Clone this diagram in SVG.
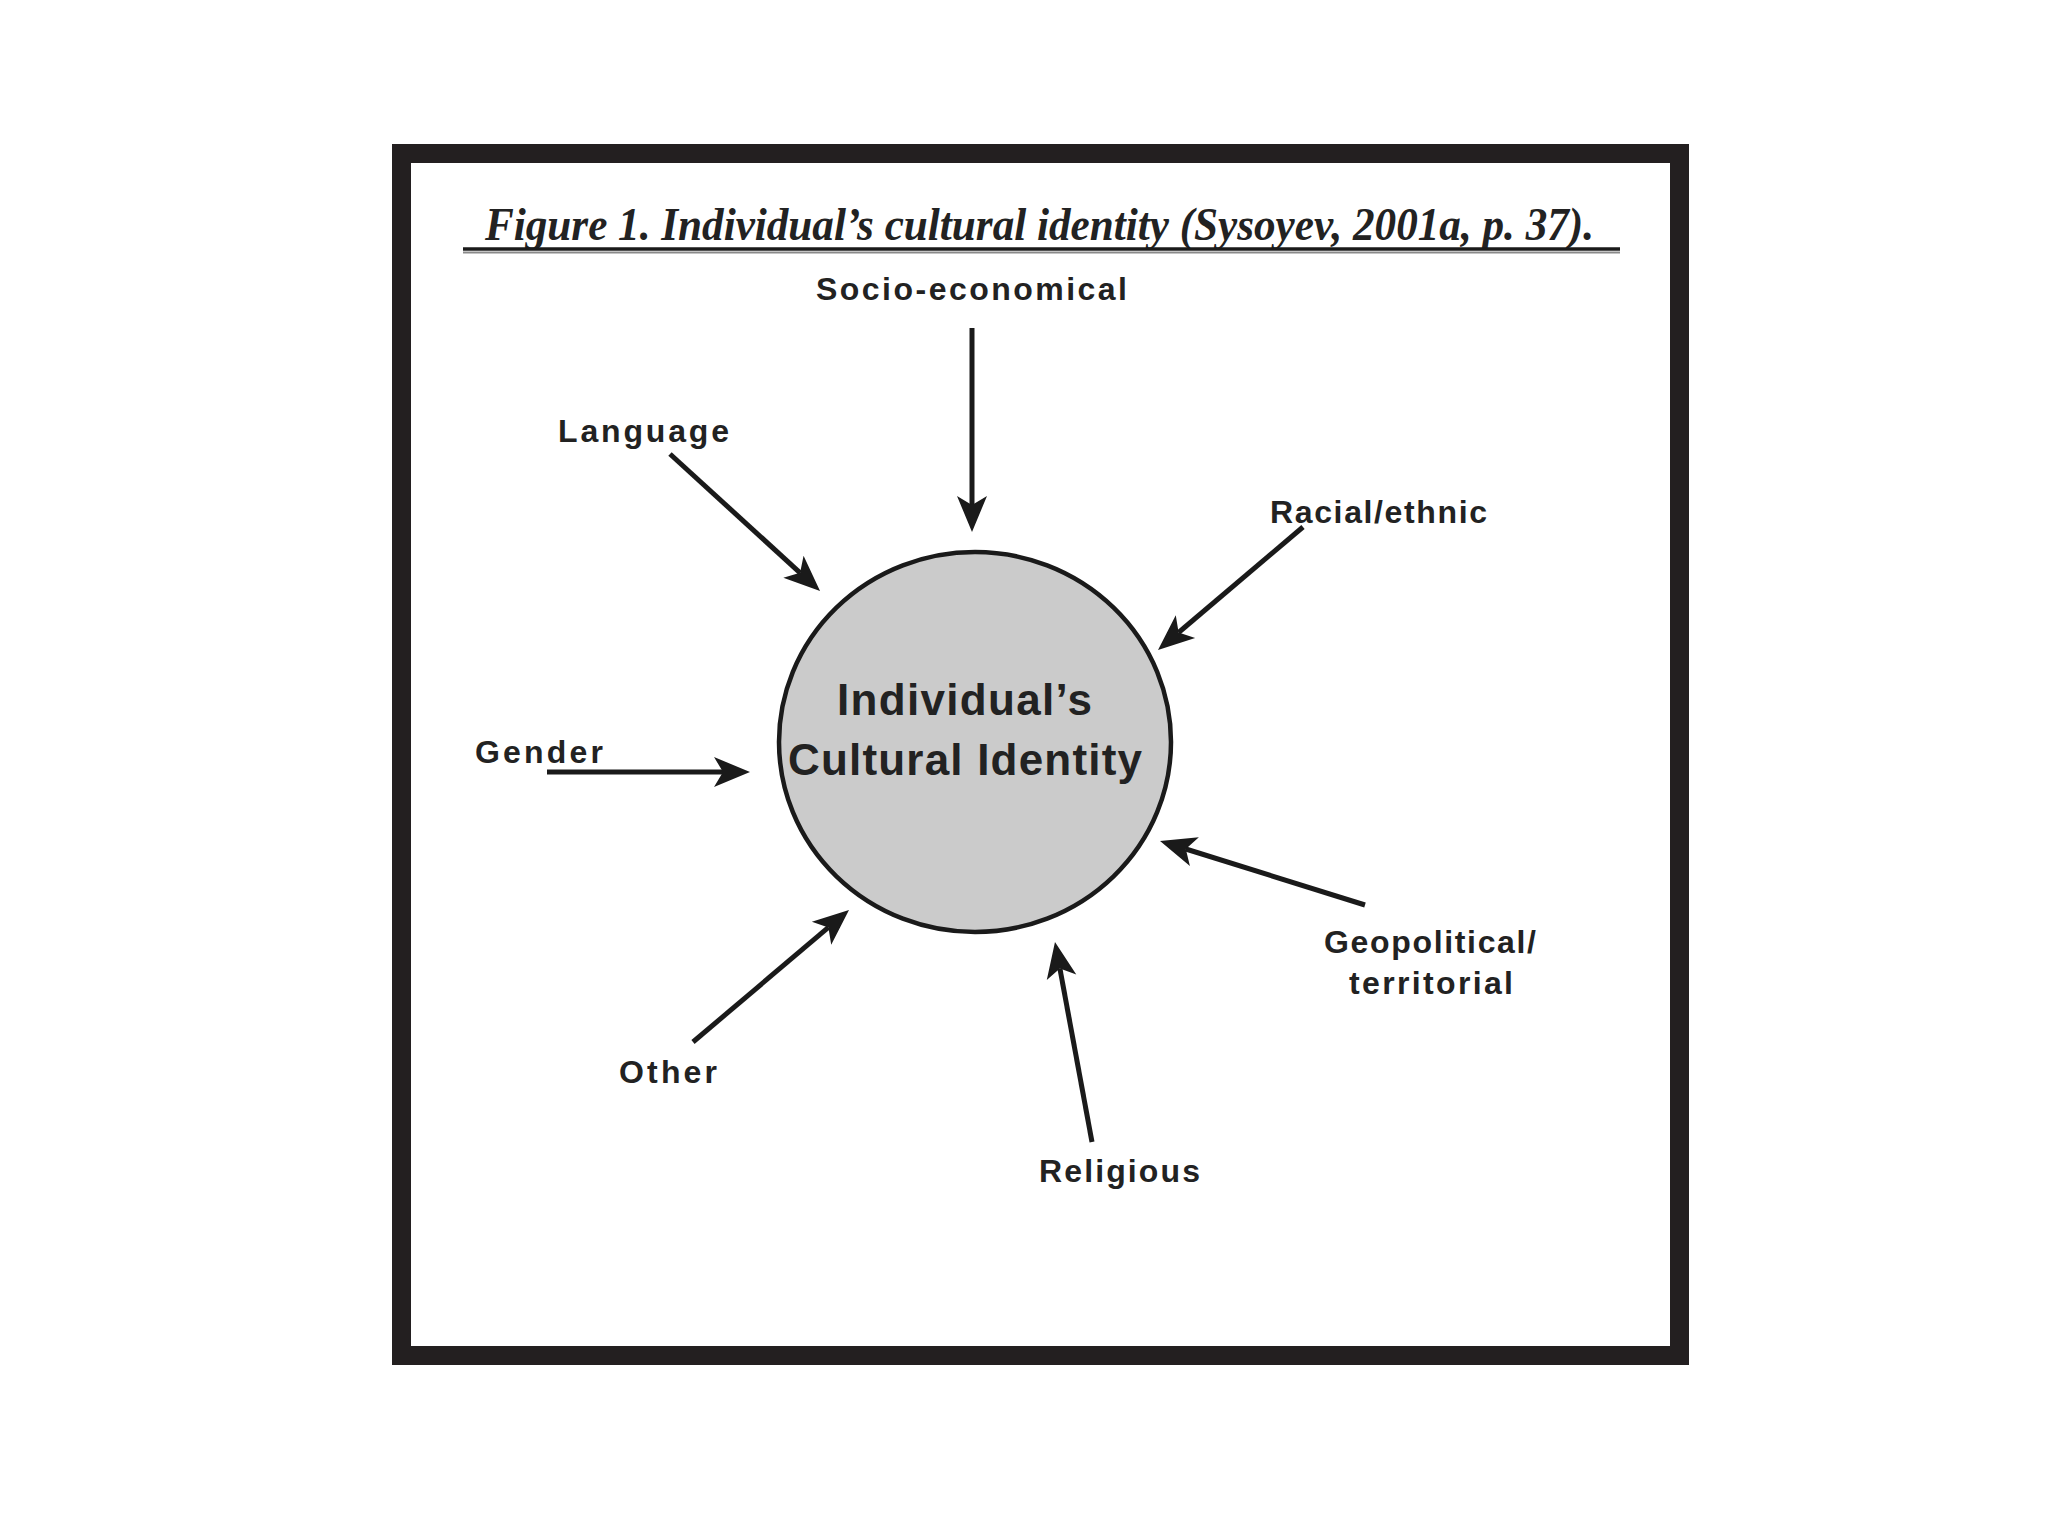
<svg xmlns="http://www.w3.org/2000/svg" width="2048" height="1536" viewBox="0 0 2048 1536">
  <style>
    .lbl { font-family: "Liberation Sans", Arial, sans-serif; font-weight: bold; font-size: 32px; fill: #222; }
    .ctr { font-family: "Liberation Sans", Arial, sans-serif; font-weight: bold; font-size: 44px; fill: #222; }
    .title { font-family: "Liberation Serif", "Times New Roman", serif; font-weight: bold; font-style: italic; font-size: 46px; fill: #222; }
    .conn { stroke: #1a1a1a; stroke-width: 5; fill: none; marker-end: url(#arrow); }
  </style>
  <defs>
    <marker id="arrow" markerUnits="userSpaceOnUse" viewBox="-10 -16 40 32" markerWidth="40" markerHeight="32" refX="0" refY="0" orient="auto">
      <path d="M27,0 L-9,-15 L0,0 L-9,15 Z" fill="#1a1a1a"/>
    </marker>
  </defs>
  <rect width="2048" height="1536" fill="#ffffff"/>
  <g id="frame">
    <rect x="401.5" y="153.5" width="1278" height="1202" fill="#ffffff" stroke="#231f20" stroke-width="19"/>
  </g>
  <g id="title">
    <text class="title" x="485" y="240" textLength="1109" lengthAdjust="spacingAndGlyphs">Figure 1. Individual’s cultural identity (Sysoyev, 2001a, p. 37).</text>
    <line x1="463" y1="249" x2="1620" y2="249" stroke="#1a1a1a" stroke-width="3.5"/>
    <line x1="463" y1="252.5" x2="1620" y2="252.5" stroke="#8a8a8a" stroke-width="2"/>
  </g>
  <g id="center-node">
    <ellipse cx="975" cy="742" rx="196" ry="190" fill="#cbcbcb" stroke="#1a1a1a" stroke-width="4.5"/>
    <text class="ctr" x="837" y="715" textLength="255" lengthAdjust="spacing">Individual’s</text>
    <text class="ctr" x="788" y="775" textLength="354" lengthAdjust="spacing">Cultural Identity</text>
  </g>
  <g id="node-socio"><text class="lbl" x="816" y="300" textLength="311" lengthAdjust="spacing">Socio-economical</text></g>
  <g id="node-language"><text class="lbl" x="558" y="442" textLength="171" lengthAdjust="spacing">Language</text></g>
  <g id="node-racial"><text class="lbl" x="1270" y="523" textLength="217" lengthAdjust="spacing">Racial/ethnic</text></g>
  <g id="node-gender"><text class="lbl" x="475" y="763" textLength="128" lengthAdjust="spacing">Gender</text></g>
  <g id="node-geopolitical">
    <text class="lbl" x="1324" y="953" textLength="212" lengthAdjust="spacing">Geopolitical/</text>
    <text class="lbl" x="1349" y="994" textLength="164" lengthAdjust="spacing">territorial</text>
  </g>
  <g id="node-other"><text class="lbl" x="619" y="1083" textLength="98" lengthAdjust="spacing">Other</text></g>
  <g id="node-religious"><text class="lbl" x="1039" y="1182" textLength="161" lengthAdjust="spacing">Religious</text></g>
  <g id="connectors">
    <line class="conn" x1="972" y1="328" x2="972" y2="505"/>
    <line class="conn" x1="670" y1="454" x2="800.1" y2="572.8"/>
    <line class="conn" x1="1303" y1="527" x2="1178.6" y2="632.5"/>
    <line class="conn" x1="547" y1="772" x2="723" y2="772"/>
    <line class="conn" x1="1365" y1="905" x2="1185.8" y2="849"/>
    <line class="conn" x1="693" y1="1042" x2="828.4" y2="927.4"/>
    <line class="conn" x1="1092" y1="1142" x2="1059.9" y2="968.5"/>
  </g>
</svg>
